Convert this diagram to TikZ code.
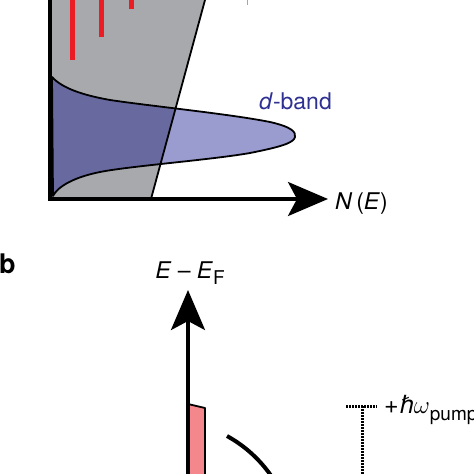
\documentclass[tikz,border=0pt]{standalone}
\usepackage{fontspec}
\setmainfont{TeX Gyre Heros}
\usetikzlibrary{arrows.meta}
\definecolor{bandgray}{HTML}{A7A9AC}
\definecolor{dlight}{HTML}{9A9BCF}
\definecolor{ddark}{HTML}{686A9F}
\definecolor{dtext}{HTML}{2E3192}
\definecolor{hotred}{HTML}{EC1C24}
\definecolor{hotpink}{HTML}{F4878C}
\newcommand{\lowsub}[1]{\raisebox{-0.28em}{\fontsize{19}{22}\selectfont #1}}
\tikzset{
  lbl/.style={font=\fontsize{23}{27}\selectfont, inner sep=0pt},
  axis/.style={line width=3.5pt, -{Stealth[length=40pt,width=34pt,inset=9pt]}},
  edge/.style={line width=1.8pt, line join=round},
}
\begin{document}
\begin{tikzpicture}[x=1pt,y=-1pt,line cap=butt]
\useasboundingbox (0,0) rectangle (474,474);
% panel a: density of states
\fill[bandgray] (52,0)--(205,0)--(151,199)--(52,199)--cycle;
\def\dband{(52,77) .. controls (62,88) and (82,95) .. (110,100)
  .. controls (150,106) and (230,114) .. (270,122)
  .. controls (292,127) and (296,132) .. (295,137)
  .. controls (294,143) and (280,147) .. (250,153)
  .. controls (210,160) and (130,166) .. (100,172)
  .. controls (75,177) and (58,186) .. (53,196) -- cycle}
\fill[dlight] \dband;
\begin{scope}
  \clip (52,0)--(205,0)--(151,199)--(52,199)--cycle;
  \fill[ddark] \dband;
\end{scope}
\draw[edge] \dband;
\draw[edge] (205,0)--(151,199);
\foreach \xr/\yr in {72/60, 101/37, 131/9}
  \draw[hotred, line width=5pt] (\xr,0)--(\xr,\yr);
\draw[gray!70, line width=1pt] (247,0)--(247,5);
\draw[line width=3.5pt] (50,0)--(50,199);
\draw[axis] (48.25,199)--(328,199);
\node[lbl, anchor=base west] (dos) at (335,209) {\textit{N}\,(\textit{E})};
\node[lbl, anchor=base west, text=dtext] (dlabel) at (259,109) {\textit{d}-band};
% panel b
\node[font=\fontsize{27}{30}\selectfont\bfseries, inner sep=0pt, anchor=base west] (panelb) at (-1,273) {b};
\fill[hotpink] (188,404)--(205,408)--(205,480)--(188,480)--cycle;
\draw[edge] (188,404)--(205,408)--(205,480);
\draw[axis] (188,480)--(188,290);
\node[lbl, anchor=base] (energy) at (190,278) {\textit{E} – \textit{E}\lowsub{F}};
\draw[line width=4pt] (227,436) .. controls (245,446) and (261,460) .. (274,480);
\draw[line width=3pt, dash pattern=on 1.5pt off 1.5pt] (346,406)--(377,406) (362,406)--(362,480);
\node[lbl, font=\fontsize{25}{29}\selectfont, anchor=base west] (pump) at (384,413) {+\textit{ħ}$\omega$\lowsub{pump}};
\end{tikzpicture}
\end{document}
